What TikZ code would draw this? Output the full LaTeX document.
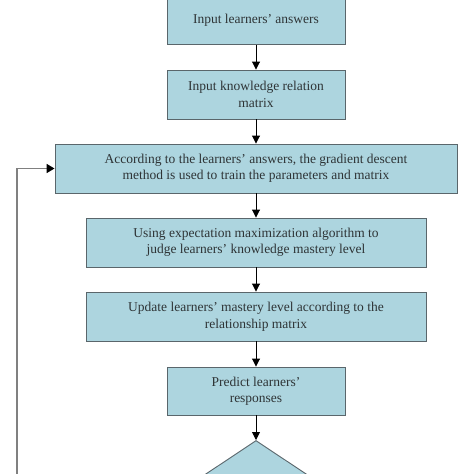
\documentclass[tikz,border=0pt]{standalone}
\usepackage{fontspec}
\setmainfont{Liberation Serif}
\usepackage{tikz}
\usetikzlibrary{arrows.meta,shapes.geometric}

\definecolor{boxfill}{HTML}{ADD5DF}
\definecolor{boxline}{HTML}{5A666B}
\definecolor{txt}{HTML}{2E3436}

\begin{document}
\begin{tikzpicture}[x=1pt,y=-1pt,
  stepbox/.style={draw=boxline,fill=boxfill,line width=0.9pt,text=txt,
    align=center,font=\fontsize{13.5}{16.5}\selectfont,inner sep=0pt,
    minimum height=49pt},
  flow/.style={draw=black,line width=0.9pt,-{Triangle[length=8pt,width=8pt]}}]
  \useasboundingbox (0,0) rectangle (474,474);
  \clip (0,0) rectangle (474,474);
  \node[stepbox,minimum width=178pt] (answers) at (256,20) {Input learners’ answers};
  \node[stepbox,minimum width=178pt] (relation) at (256,94.5) {Input knowledge relation\\matrix};
  \node[stepbox,minimum width=402pt] (train) at (256,168.5) {According to the learners’ answers, the gradient descent\\method is used to train the parameters and matrix};
  \node[stepbox,minimum width=340pt] (em) at (256,242.5) {Using expectation maximization algorithm to\\judge learners’ knowledge mastery level};
  \node[stepbox,minimum width=340pt] (update) at (256,316.5) {Update learners’ mastery level according to the\\relationship matrix};
  \node[stepbox,minimum width=178pt,minimum height=48pt] (predict) at (256,391) {Predict learners’\\responses};
  \node[diamond,draw=boxline,fill=boxfill,line width=0.9pt,inner sep=0pt,
    minimum width=240pt,minimum height=160pt,anchor=north] (check) at (256,440) {};
  \draw[flow] (answers) -- (relation);
  \draw[flow] (relation) -- (train);
  \draw[flow] (train) -- (em);
  \draw[flow] (em) -- (update);
  \draw[flow] (update) -- (predict);
  \draw[flow] (predict) -- (check);
  % loop back
  \coordinate (back) at (17,480);
  \draw[draw=gray,line width=1.6pt,-{Triangle[length=8pt,width=9pt,color=black]}]
    (back) |- (train.west);
\end{tikzpicture}
\end{document}
